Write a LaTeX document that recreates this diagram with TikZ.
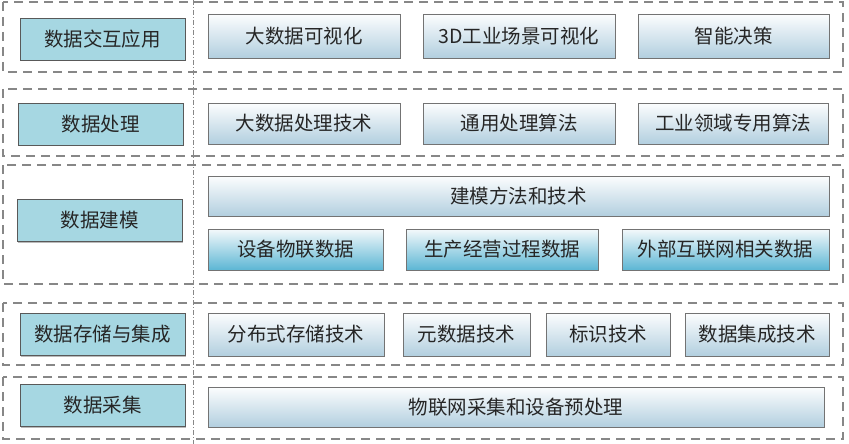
\documentclass[tikz,border=0pt]{standalone}
\usepackage{fontspec}
\setmainfont{Noto Sans CJK SC}
\usepackage{tikz}
\usetikzlibrary{shadows}
\definecolor{tierfill}{RGB}{166,215,226}
\definecolor{itemtop}{RGB}{252,253,254}
\definecolor{itembot}{RGB}{178,207,223}
\definecolor{datatop}{RGB}{244,249,251}
\definecolor{databot}{RGB}{92,182,212}
\definecolor{framegray}{RGB}{135,135,135}
\tikzstyle{layer}=[draw=framegray,line width=1.1pt,dash pattern=on 9pt off 6pt]
\tikzstyle{divider}=[draw=framegray,line width=0.8pt,dash pattern=on 5pt off 2pt on 1pt off 2pt]
\tikzstyle{tier}=[draw=black!65,line width=0.9pt,fill=tierfill,minimum width=165pt,minimum height=42pt,inner sep=0pt,
  drop shadow={shadow xshift=1pt,shadow yshift=-1pt,fill=black!45,opacity=.6}]
\tikzstyle{item}=[draw=black!55,line width=0.9pt,top color=itemtop,bottom color=itembot,inner sep=0pt,
  drop shadow={shadow xshift=1pt,shadow yshift=-1pt,fill=black!45,opacity=.6}]
\tikzstyle{data item}=[item,top color=datatop,bottom color=databot]

\begin{document}
\begin{tikzpicture}[x=1pt,y=-1pt,every node/.style={font=\fontsize{19.5}{22}\selectfont,text=black!85}]
    \useasboundingbox (0,0) rectangle (849,444);

    % layer frames and the dividing line
    \foreach \ya/\yb in {2/72, 89/156, 165/284, 303/365, 377/439}
        \draw[layer] (3,\ya) rectangle (843,\yb);
    \coordinate (divtop) at (193,0);
    \coordinate (divbot) at (193,444);
    \path[divider] (divtop) -- (divbot);

    % layer names on the left
    \foreach \pos/\name/\txt in {{(102.5,39)/app/数据交互应用}, {(100.5,124)/proc/数据处理},
        {(99.5,220.5)/model/数据建模}, {(102.5,334.5)/store/数据存储与集成}, {(102.5,405.5)/collect/数据采集}}
        \node[tier] (\name) at \pos {\txt};

    % technologies of each layer
    \foreach \pos/\w/\h/\name/\txt in {{(304,36)/192/44/bigvis/大数据可视化}, {(519,36)/192/44/scene/3D工业场景可视化},
        {(733.5,36)/191/44/decide/智能决策},
        {(304,123.5)/192/41/bigproc/大数据处理技术}, {(519,123.5)/192/41/general/通用处理算法},
        {(733,123.5)/190/41/special/工业领域专用算法},
        {(518.5,196)/621/40/method/建模方法和技术},
        {(296,334.5)/176/43/distrib/分布式存储技术}, {(466.5,334.5)/127/43/meta/元数据技术},
        {(608,334.5)/124/43/ident/标识技术}, {(757,334.5)/144/43/integ/数据集成技术},
        {(516,407)/616/40/iot/物联网采集和设备预处理}}
        \node[item,minimum width=\w pt,minimum height=\h pt] (\name) at \pos {\txt};

    % data sources for modelling
    \foreach \pos/\w/\name/\txt in {{(295.5,249.5)/175/device/设备物联数据}, {(502,249.5)/192/produce/生产经营过程数据},
        {(725.5,249.5)/207/internet/外部互联网相关数据}}
        \node[data item,minimum width=\w pt,minimum height=41pt] (\name) at \pos {\txt};
\end{tikzpicture}
\end{document}
